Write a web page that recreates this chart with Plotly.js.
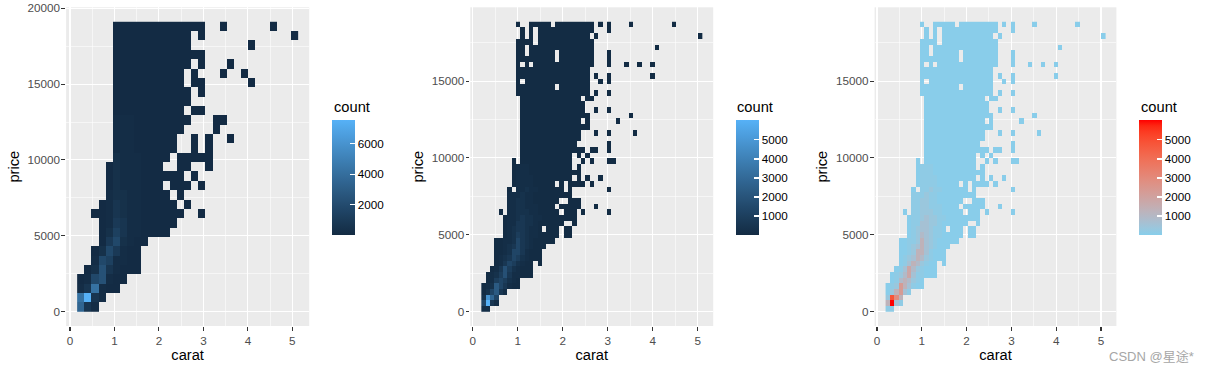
<!DOCTYPE html>
<html><head><meta charset="utf-8">
<script src="https://cdn.plot.ly/plotly-2.35.2.min.js"></script>
<style>html,body{margin:0;padding:0;background:#fff;}#chart{width:1211px;height:371px;}</style>
</head><body><div id="chart"></div>
<script>
// ---------- DATA ----------
// Count level of each cell: '.' empty, other characters = approximate count
const countLevels = {'#':30,'a':150,'b':350,'c':600,'1':900,'2':1300,'3':1800,'4':2300,'5':2900,'6':3500,'7':4200,'8':4800,'9':5400};
const maxCount1 = 7550;   // brightest cell, left plot (bins = 30)
const maxCount2 = 6050;   // brightest cell, middle/right plots (bins = 50)

// Left plot: bins of 0.1603 carat x 616.6 price; rows listed from top (price ~19000) to bottom (price 0)
const grid1 = [
".....#############..#......#...",
".....###########.#............#",
".....###########........#......",
".....#############.............",
".....###########.#...#.........",
".....##########.#...#..#.......",
".....##########.##......#......",
".....###########.#.............",
".....###########...............",
".....##########.##.............",
".....aaa########...##..........",
".....aaa#######....#...........",
".....aaa######..#.#..#.........",
".....aaa######..#.#............",
".....baaa####.#####............",
"....#baaa###..##..#............",
"....#baaa######.#..............",
"....#baaa###.###.#.............",
"....abbaa####.#................",
"...#acbaa#####.#...............",
"..##acbaa######..#.............",
"...#a1caa#####.................",
"...#b2caa####..................",
"...#13ba##.....................",
"..#b31a##......................",
"..a32aa##......................",
".#b4ca###......................",
"#a34a##........................",
"ac7a##.........................",
"7Xca...........................",
"6ca............................"
];

// Middle and right plots: bins of 0.0962 carat x 369.9 price; rows from top to bottom
const grid2 = [
"........#..#####.#########.#.#....#.........#",
".........#.#.#############...#",
".........#.#.############.#.......................#",
"........####.#############",
"........##.###############..............#",
"........##.######.########...#",
"........#########.########...#",
"........#.#.##############...#...#..#..#",
"........#################",
"........#################.#..#.........#",
"........#.###############..#.#",
"........#########.#######",
"........#################.#..#",
".........##############.##",
".........###############",
".........###############..#..#",
".........################.........#",
".........##############.#......#",
".........################",
".........##############...#..#.....#",
".........##############",
".........#############.......#",
".........###############.##..#",
".........############.#.#",
".......#.############..#.#...##",
".......#aaa##########.#",
".......#aaa############",
".......#aaaa#########.#.#..#",
".......#aaaa#####.#.####.#",
"......#.aabaa######.#........#",
"......aaabaa#########",
"......aabbaa######..###",
"......aabbaaa####.#####...#",
"....#.aabbbaa#####.###.#.....#",
".....#aabcbbaa########",
".....#aaccbba######..#",
".....#abccbaa#.###.##",
".....#ab1cbaa#####.##",
"...##aab2cba#####",
"...##abc2cba###",
"...##ab22ca###",
"...#abc21ba###",
"...#ac21ba##.#",
"..#ac31ba###",
".#ab13caa###",
".#a121ba#",
"#ab42ca##",
"#b24ca",
"b852",
"2Xca",
"aa"
];

const caratTicks = [0, 1, 2, 3, 4, 5];
const priceTicks1 = [0, 5000, 10000, 15000, 20000];
const priceTicks2 = [0, 5000, 10000, 15000];
const countTicks1 = [2000, 4000, 6000];
const countTicks2 = [1000, 2000, 3000, 4000, 5000];

// ---------- helpers ----------
function toZ(rows, n, maxv) {
  return rows.slice().reverse().map(r => r.padEnd(n, '.').split('').map(ch =>
    ch === '.' ? null : (ch === 'X' ? maxv : countLevels[ch])));
}
function hex2rgb(h){return [1,3,5].map(i=>parseInt(h.substr(i,2),16));}
function s2l(c){c/=255;return c<=0.04045?c/12.92:Math.pow((c+0.055)/1.055,2.4);}
function l2s(c){c=c<=0.0031308?12.92*c:1.055*Math.pow(c,1/2.4)-0.055;return Math.round(Math.max(0,Math.min(1,c))*255);}
const Xn=0.95047,Yn=1,Zn=1.08883;
function ff(t){return t>0.008856?Math.cbrt(t):7.787*t+16/116;}
function fi(t){return t>0.206893?t*t*t:(t-16/116)/7.787;}
function toLab(hex){const [r,g,b]=hex2rgb(hex).map(s2l);
  const X=0.4124*r+0.3576*g+0.1805*b,Y=0.2126*r+0.7152*g+0.0722*b,Z=0.0193*r+0.1192*g+0.9505*b;
  const fx=ff(X/Xn),fy=ff(Y/Yn),fz=ff(Z/Zn);return [116*fy-16,500*(fx-fy),200*(fy-fz)];}
function fromLab(L){const fy=(L[0]+16)/116,fx=fy+L[1]/500,fz=fy-L[2]/200;
  const X=Xn*fi(fx),Y=Yn*fi(fy),Z=Zn*fi(fz);
  const r=3.2406*X-1.5372*Y-0.4986*Z,g=-0.9689*X+1.8758*Y+0.0415*Z,b=0.0557*X-0.2040*Y+1.0570*Z;
  return 'rgb('+[r,g,b].map(l2s).join(',')+')';}
function labScale(lo,hi,n){const A=toLab(lo),B=toLab(hi),out=[];
  for(let k=0;k<=n;k++){const t=k/n;out.push([t,fromLab(A.map((v,i)=>v+(B[i]-v)*t))]);}return out;}

const W = 1211, H = 371;
const FONT = 'Liberation Sans, Arial, sans-serif';
const px = (a,b) => [a/W, b/W];
const py = (top,bottom) => [1-bottom/H, 1-top/H];

const blueScale = labScale('#132B43', '#56B1F7', 20);
const redScale = labScale('#87CEEB', '#FF0000', 20);

function cbar(left, ticks) {
  return {
    x: left/W, xanchor: 'left', xpad: 0,
    y: 1-120/H, yanchor: 'top', ypad: 0,
    len: 115, lenmode: 'pixels', thickness: 23, thicknessmode: 'pixels',
    outlinewidth: 0, title: {text: ''},
    tickvals: ticks, ticks: 'inside', ticklen: 4.6, tickwidth: 1.07, tickcolor: 'white',
    tickfont: {family: FONT, size: 11.7, color: 'black'}, tickprefix: ' '
  };
}

const z1 = toZ(grid1, 31, maxCount1);
const z2 = toZ(grid2, 51, maxCount2);

const traces = [
  {type:'heatmap', z:z1, x0:0.2405, dx:0.16033, y0:308.3, dy:616.57, xaxis:'x', yaxis:'y',
   zmin:1, zmax:maxCount1, colorscale:blueScale, colorbar:cbar(332, countTicks1), hoverinfo:'skip'},
  {type:'heatmap', z:z2, x0:0.2405, dx:0.0962, y0:184.97, dy:369.94, xaxis:'x2', yaxis:'y2',
   zmin:1, zmax:maxCount2, colorscale:blueScale, colorbar:cbar(736, countTicks2), hoverinfo:'skip'},
  {type:'heatmap', z:z2, x0:0.2405, dx:0.0962, y0:184.97, dy:369.94, xaxis:'x3', yaxis:'y3',
   zmin:1, zmax:maxCount2, colorscale:redScale, colorbar:cbar(1139, countTicks2), hoverinfo:'skip'}
];

function xax(dom, range, anchor) {
  return {domain: dom, range: range, anchor: anchor, tickvals: caratTicks, ticks:'outside', ticklen:3.7, tickwidth:1.07,
    tickcolor:'#333333', tickfont:{family:FONT, size:11.7, color:'#4D4D4D'}, showgrid:true, gridcolor:'white', gridwidth:1.07,
    zeroline:false, showline:false, minor:{dtick:0.5, tick0:0, showgrid:true, gridcolor:'white', gridwidth:0.53},
    title:{text:'carat', font:{family:FONT, size:14.67, color:'black'}, standoff:3}, fixedrange:true};
}
function yax(dom, range, anchor, ticks) {
  return {domain: dom, range: range, anchor: anchor, tickvals: ticks, tickformat:'d', ticks:'outside', ticklen:3.7, tickwidth:1.07,
    ticklabelstandoff:-1,
    tickcolor:'#333333', tickfont:{family:FONT, size:11.7, color:'#4D4D4D'}, showgrid:true, gridcolor:'white', gridwidth:1.07,
    zeroline:false, showline:false, minor:{dtick:2500, tick0:0, showgrid:true, gridcolor:'white', gridwidth:0.53},
    title:{text:'price', font:{family:FONT, size:14.67, color:'black'}, standoff:4}, fixedrange:true};
}

const ydom = py(7.3, 326);
const layout = {
  width: W, height: H, margin:{l:0, r:0, t:0, b:0}, paper_bgcolor:'white', plot_bgcolor:'#EBEBEB',
  showlegend:false, font:{family:FONT},
  xaxis: xax(px(66.1, 309.2), [-0.0882, 5.3792], 'y'),
  yaxis: yax(ydom, [-955.7, 20069], 'x', priceTicks1),
  xaxis2: xax(px(470.3, 713.2), [-0.0529, 5.3439], 'y2'),
  yaxis2: yax(ydom, [-943, 19810], 'x2', priceTicks2),
  xaxis3: xax(px(874.6, 1116.4), [-0.0529, 5.3439], 'y3'),
  yaxis3: yax(ydom, [-943, 19810], 'x3', priceTicks2),
  annotations: [
    {text:'count', x:332/W, y:1-107/H, xref:'paper', yref:'paper', xanchor:'left', yanchor:'middle', showarrow:false, font:{family:FONT, size:14.67, color:'black'}},
    {text:'count', x:735/W, y:1-107/H, xref:'paper', yref:'paper', xanchor:'left', yanchor:'middle', showarrow:false, font:{family:FONT, size:14.67, color:'black'}},
    {text:'count', x:1139/W, y:1-107/H, xref:'paper', yref:'paper', xanchor:'left', yanchor:'middle', showarrow:false, font:{family:FONT, size:14.67, color:'black'}},
    {text:'CSDN @星途*', x:1196/W, y:1-356/H, xref:'paper', yref:'paper', xanchor:'right', yanchor:'middle', showarrow:false, font:{family:'Liberation Sans, Noto Sans CJK SC, sans-serif', size:13, color:'#A6A6A6'}}
  ]
};

Plotly.newPlot('chart', traces, layout, {displayModeBar:false, staticPlot:true});
</script>
</body></html>
